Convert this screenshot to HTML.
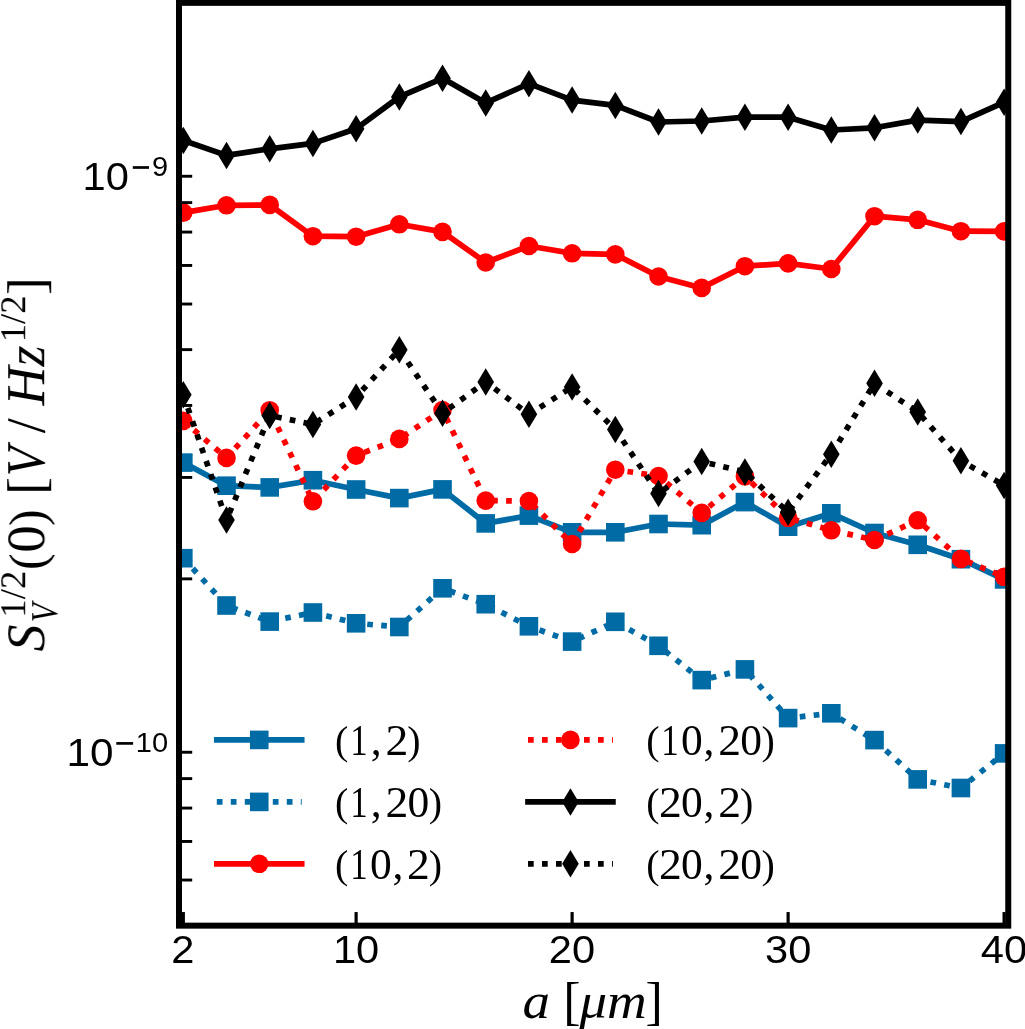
<!DOCTYPE html>
<html><head><meta charset="utf-8"><style>
html,body{margin:0;padding:0;background:#fff;width:1025px;height:1029px;overflow:hidden;}
svg{display:block;}
svg text{font-kerning:none;}
</style></head><body>
<svg width="1025" height="1029" viewBox="0 0 1025 1029"><rect x="0" y="0" width="1025" height="1029" fill="#fff"/>
<defs><clipPath id="ax"><rect x="179.0" y="2.85" width="829.25" height="922.8"/></clipPath></defs>
<g clip-path="url(#ax)">
<polyline points="183.32,462.60 226.52,485.70 269.72,487.40 312.92,480.20 356.12,489.50 399.32,498.10 442.52,489.40 485.72,523.40 528.92,515.60 572.12,532.30 615.32,532.30 658.52,524.00 701.72,525.20 744.92,502.10 788.12,526.70 831.32,513.30 874.52,533.00 917.72,544.80 960.92,559.20 1004.12,579.40" fill="none" stroke="#006BA4" stroke-width="5.7" stroke-linecap="square" stroke-linejoin="round"/>
<rect x="174.02" y="453.30" width="18.60" height="18.60" fill="#006BA4"/>
<rect x="217.22" y="476.40" width="18.60" height="18.60" fill="#006BA4"/>
<rect x="260.42" y="478.10" width="18.60" height="18.60" fill="#006BA4"/>
<rect x="303.62" y="470.90" width="18.60" height="18.60" fill="#006BA4"/>
<rect x="346.82" y="480.20" width="18.60" height="18.60" fill="#006BA4"/>
<rect x="390.02" y="488.80" width="18.60" height="18.60" fill="#006BA4"/>
<rect x="433.22" y="480.10" width="18.60" height="18.60" fill="#006BA4"/>
<rect x="476.42" y="514.10" width="18.60" height="18.60" fill="#006BA4"/>
<rect x="519.62" y="506.30" width="18.60" height="18.60" fill="#006BA4"/>
<rect x="562.82" y="523.00" width="18.60" height="18.60" fill="#006BA4"/>
<rect x="606.02" y="523.00" width="18.60" height="18.60" fill="#006BA4"/>
<rect x="649.22" y="514.70" width="18.60" height="18.60" fill="#006BA4"/>
<rect x="692.42" y="515.90" width="18.60" height="18.60" fill="#006BA4"/>
<rect x="735.62" y="492.80" width="18.60" height="18.60" fill="#006BA4"/>
<rect x="778.82" y="517.40" width="18.60" height="18.60" fill="#006BA4"/>
<rect x="822.02" y="504.00" width="18.60" height="18.60" fill="#006BA4"/>
<rect x="865.22" y="523.70" width="18.60" height="18.60" fill="#006BA4"/>
<rect x="908.42" y="535.50" width="18.60" height="18.60" fill="#006BA4"/>
<rect x="951.62" y="549.90" width="18.60" height="18.60" fill="#006BA4"/>
<rect x="994.82" y="570.10" width="18.60" height="18.60" fill="#006BA4"/>
<polyline points="183.32,558.20 226.52,605.50 269.72,621.60 312.92,612.50 356.12,623.30 399.32,627.00 442.52,588.30 485.72,604.20 528.92,626.30 572.12,641.60 615.32,621.80 658.52,645.80 701.72,680.10 744.92,669.40 788.12,718.10 831.32,713.30 874.52,740.10 917.72,779.40 960.92,788.00 1004.12,753.40" fill="none" stroke="#006BA4" stroke-width="5.7" stroke-dasharray="5.7 8.3" stroke-linecap="butt" stroke-linejoin="round"/>
<rect x="174.02" y="548.90" width="18.60" height="18.60" fill="#006BA4"/>
<rect x="217.22" y="596.20" width="18.60" height="18.60" fill="#006BA4"/>
<rect x="260.42" y="612.30" width="18.60" height="18.60" fill="#006BA4"/>
<rect x="303.62" y="603.20" width="18.60" height="18.60" fill="#006BA4"/>
<rect x="346.82" y="614.00" width="18.60" height="18.60" fill="#006BA4"/>
<rect x="390.02" y="617.70" width="18.60" height="18.60" fill="#006BA4"/>
<rect x="433.22" y="579.00" width="18.60" height="18.60" fill="#006BA4"/>
<rect x="476.42" y="594.90" width="18.60" height="18.60" fill="#006BA4"/>
<rect x="519.62" y="617.00" width="18.60" height="18.60" fill="#006BA4"/>
<rect x="562.82" y="632.30" width="18.60" height="18.60" fill="#006BA4"/>
<rect x="606.02" y="612.50" width="18.60" height="18.60" fill="#006BA4"/>
<rect x="649.22" y="636.50" width="18.60" height="18.60" fill="#006BA4"/>
<rect x="692.42" y="670.80" width="18.60" height="18.60" fill="#006BA4"/>
<rect x="735.62" y="660.10" width="18.60" height="18.60" fill="#006BA4"/>
<rect x="778.82" y="708.80" width="18.60" height="18.60" fill="#006BA4"/>
<rect x="822.02" y="704.00" width="18.60" height="18.60" fill="#006BA4"/>
<rect x="865.22" y="730.80" width="18.60" height="18.60" fill="#006BA4"/>
<rect x="908.42" y="770.10" width="18.60" height="18.60" fill="#006BA4"/>
<rect x="951.62" y="778.70" width="18.60" height="18.60" fill="#006BA4"/>
<rect x="994.82" y="744.10" width="18.60" height="18.60" fill="#006BA4"/>
<polyline points="183.32,212.60 226.52,205.30 269.72,204.90 312.92,236.20 356.12,236.70 399.32,224.30 442.52,231.90 485.72,262.50 528.92,246.00 572.12,253.30 615.32,254.40 658.52,276.50 701.72,287.90 744.92,266.20 788.12,263.40 831.32,269.00 874.52,216.20 917.72,219.80 960.92,231.20 1004.12,231.40" fill="none" stroke="#FF0000" stroke-width="5.7" stroke-linecap="square" stroke-linejoin="round"/>
<circle cx="183.32" cy="212.60" r="9.30" fill="#FF0000"/>
<circle cx="226.52" cy="205.30" r="9.30" fill="#FF0000"/>
<circle cx="269.72" cy="204.90" r="9.30" fill="#FF0000"/>
<circle cx="312.92" cy="236.20" r="9.30" fill="#FF0000"/>
<circle cx="356.12" cy="236.70" r="9.30" fill="#FF0000"/>
<circle cx="399.32" cy="224.30" r="9.30" fill="#FF0000"/>
<circle cx="442.52" cy="231.90" r="9.30" fill="#FF0000"/>
<circle cx="485.72" cy="262.50" r="9.30" fill="#FF0000"/>
<circle cx="528.92" cy="246.00" r="9.30" fill="#FF0000"/>
<circle cx="572.12" cy="253.30" r="9.30" fill="#FF0000"/>
<circle cx="615.32" cy="254.40" r="9.30" fill="#FF0000"/>
<circle cx="658.52" cy="276.50" r="9.30" fill="#FF0000"/>
<circle cx="701.72" cy="287.90" r="9.30" fill="#FF0000"/>
<circle cx="744.92" cy="266.20" r="9.30" fill="#FF0000"/>
<circle cx="788.12" cy="263.40" r="9.30" fill="#FF0000"/>
<circle cx="831.32" cy="269.00" r="9.30" fill="#FF0000"/>
<circle cx="874.52" cy="216.20" r="9.30" fill="#FF0000"/>
<circle cx="917.72" cy="219.80" r="9.30" fill="#FF0000"/>
<circle cx="960.92" cy="231.20" r="9.30" fill="#FF0000"/>
<circle cx="1004.12" cy="231.40" r="9.30" fill="#FF0000"/>
<polyline points="183.32,420.90 226.52,457.90 269.72,410.20 312.92,501.30 356.12,455.60 399.32,438.90 442.52,410.00 485.72,500.60 528.92,501.00 572.12,544.00 615.32,469.70 658.52,476.00 701.72,512.90 744.92,476.40 788.12,517.80 831.32,530.30 874.52,540.00 917.72,520.30 960.92,558.90 1004.12,576.80" fill="none" stroke="#FF0000" stroke-width="5.7" stroke-dasharray="5.7 8.3" stroke-linecap="butt" stroke-linejoin="round"/>
<circle cx="183.32" cy="420.90" r="9.30" fill="#FF0000"/>
<circle cx="226.52" cy="457.90" r="9.30" fill="#FF0000"/>
<circle cx="269.72" cy="410.20" r="9.30" fill="#FF0000"/>
<circle cx="312.92" cy="501.30" r="9.30" fill="#FF0000"/>
<circle cx="356.12" cy="455.60" r="9.30" fill="#FF0000"/>
<circle cx="399.32" cy="438.90" r="9.30" fill="#FF0000"/>
<circle cx="442.52" cy="410.00" r="9.30" fill="#FF0000"/>
<circle cx="485.72" cy="500.60" r="9.30" fill="#FF0000"/>
<circle cx="528.92" cy="501.00" r="9.30" fill="#FF0000"/>
<circle cx="572.12" cy="544.00" r="9.30" fill="#FF0000"/>
<circle cx="615.32" cy="469.70" r="9.30" fill="#FF0000"/>
<circle cx="658.52" cy="476.00" r="9.30" fill="#FF0000"/>
<circle cx="701.72" cy="512.90" r="9.30" fill="#FF0000"/>
<circle cx="744.92" cy="476.40" r="9.30" fill="#FF0000"/>
<circle cx="788.12" cy="517.80" r="9.30" fill="#FF0000"/>
<circle cx="831.32" cy="530.30" r="9.30" fill="#FF0000"/>
<circle cx="874.52" cy="540.00" r="9.30" fill="#FF0000"/>
<circle cx="917.72" cy="520.30" r="9.30" fill="#FF0000"/>
<circle cx="960.92" cy="558.90" r="9.30" fill="#FF0000"/>
<circle cx="1004.12" cy="576.80" r="9.30" fill="#FF0000"/>
<polyline points="183.32,140.40 226.52,155.40 269.72,148.80 312.92,143.40 356.12,128.70 399.32,96.90 442.52,78.30 485.72,102.90 528.92,83.70 572.12,100.10 615.32,105.40 658.52,122.00 701.72,121.00 744.92,117.20 788.12,117.20 831.32,130.00 874.52,127.80 917.72,120.10 960.92,121.60 1004.12,102.20" fill="none" stroke="#000000" stroke-width="5.7" stroke-linecap="square" stroke-linejoin="round"/>
<path d="M183.32 126.65L191.62 140.40L183.32 154.15L175.02 140.40Z" fill="#000000"/>
<path d="M226.52 141.65L234.82 155.40L226.52 169.15L218.22 155.40Z" fill="#000000"/>
<path d="M269.72 135.05L278.02 148.80L269.72 162.55L261.42 148.80Z" fill="#000000"/>
<path d="M312.92 129.65L321.22 143.40L312.92 157.15L304.62 143.40Z" fill="#000000"/>
<path d="M356.12 114.95L364.42 128.70L356.12 142.45L347.82 128.70Z" fill="#000000"/>
<path d="M399.32 83.15L407.62 96.90L399.32 110.65L391.02 96.90Z" fill="#000000"/>
<path d="M442.52 64.55L450.82 78.30L442.52 92.05L434.22 78.30Z" fill="#000000"/>
<path d="M485.72 89.15L494.02 102.90L485.72 116.65L477.42 102.90Z" fill="#000000"/>
<path d="M528.92 69.95L537.22 83.70L528.92 97.45L520.62 83.70Z" fill="#000000"/>
<path d="M572.12 86.35L580.42 100.10L572.12 113.85L563.82 100.10Z" fill="#000000"/>
<path d="M615.32 91.65L623.62 105.40L615.32 119.15L607.02 105.40Z" fill="#000000"/>
<path d="M658.52 108.25L666.82 122.00L658.52 135.75L650.22 122.00Z" fill="#000000"/>
<path d="M701.72 107.25L710.02 121.00L701.72 134.75L693.42 121.00Z" fill="#000000"/>
<path d="M744.92 103.45L753.22 117.20L744.92 130.95L736.62 117.20Z" fill="#000000"/>
<path d="M788.12 103.45L796.42 117.20L788.12 130.95L779.82 117.20Z" fill="#000000"/>
<path d="M831.32 116.25L839.62 130.00L831.32 143.75L823.02 130.00Z" fill="#000000"/>
<path d="M874.52 114.05L882.82 127.80L874.52 141.55L866.22 127.80Z" fill="#000000"/>
<path d="M917.72 106.35L926.02 120.10L917.72 133.85L909.42 120.10Z" fill="#000000"/>
<path d="M960.92 107.85L969.22 121.60L960.92 135.35L952.62 121.60Z" fill="#000000"/>
<path d="M1004.12 88.45L1012.42 102.20L1004.12 115.95L995.82 102.20Z" fill="#000000"/>
<polyline points="183.32,394.80 226.52,520.00 269.72,415.50 312.92,424.40 356.12,397.00 399.32,349.70 442.52,413.20 485.72,381.90 528.92,414.30 572.12,387.00 615.32,429.50 658.52,493.60 701.72,461.50 744.92,472.00 788.12,512.20 831.32,454.20 874.52,383.30 917.72,411.90 960.92,460.70 1004.12,485.40" fill="none" stroke="#000000" stroke-width="5.7" stroke-dasharray="5.7 8.3" stroke-linecap="butt" stroke-linejoin="round"/>
<path d="M183.32 381.05L191.62 394.80L183.32 408.55L175.02 394.80Z" fill="#000000"/>
<path d="M226.52 506.25L234.82 520.00L226.52 533.75L218.22 520.00Z" fill="#000000"/>
<path d="M269.72 401.75L278.02 415.50L269.72 429.25L261.42 415.50Z" fill="#000000"/>
<path d="M312.92 410.65L321.22 424.40L312.92 438.15L304.62 424.40Z" fill="#000000"/>
<path d="M356.12 383.25L364.42 397.00L356.12 410.75L347.82 397.00Z" fill="#000000"/>
<path d="M399.32 335.95L407.62 349.70L399.32 363.45L391.02 349.70Z" fill="#000000"/>
<path d="M442.52 399.45L450.82 413.20L442.52 426.95L434.22 413.20Z" fill="#000000"/>
<path d="M485.72 368.15L494.02 381.90L485.72 395.65L477.42 381.90Z" fill="#000000"/>
<path d="M528.92 400.55L537.22 414.30L528.92 428.05L520.62 414.30Z" fill="#000000"/>
<path d="M572.12 373.25L580.42 387.00L572.12 400.75L563.82 387.00Z" fill="#000000"/>
<path d="M615.32 415.75L623.62 429.50L615.32 443.25L607.02 429.50Z" fill="#000000"/>
<path d="M658.52 479.85L666.82 493.60L658.52 507.35L650.22 493.60Z" fill="#000000"/>
<path d="M701.72 447.75L710.02 461.50L701.72 475.25L693.42 461.50Z" fill="#000000"/>
<path d="M744.92 458.25L753.22 472.00L744.92 485.75L736.62 472.00Z" fill="#000000"/>
<path d="M788.12 498.45L796.42 512.20L788.12 525.95L779.82 512.20Z" fill="#000000"/>
<path d="M831.32 440.45L839.62 454.20L831.32 467.95L823.02 454.20Z" fill="#000000"/>
<path d="M874.52 369.55L882.82 383.30L874.52 397.05L866.22 383.30Z" fill="#000000"/>
<path d="M917.72 398.15L926.02 411.90L917.72 425.65L909.42 411.90Z" fill="#000000"/>
<path d="M960.92 446.95L969.22 460.70L960.92 474.45L952.62 460.70Z" fill="#000000"/>
<path d="M1004.12 471.65L1012.42 485.40L1004.12 499.15L995.82 485.40Z" fill="#000000"/>
</g>
<line x1="183.32" y1="925.65" x2="183.32" y2="912.05" stroke="#000" stroke-width="3.2"/>
<line x1="356.12" y1="925.65" x2="356.12" y2="912.05" stroke="#000" stroke-width="3.2"/>
<line x1="572.12" y1="925.65" x2="572.12" y2="912.05" stroke="#000" stroke-width="3.2"/>
<line x1="788.12" y1="925.65" x2="788.12" y2="912.05" stroke="#000" stroke-width="3.2"/>
<line x1="1004.12" y1="925.65" x2="1004.12" y2="912.05" stroke="#000" stroke-width="3.2"/>
<line x1="179.00" y1="176.25" x2="192.20" y2="176.25" stroke="#000" stroke-width="2.9"/>
<line x1="179.00" y1="752.25" x2="192.20" y2="752.25" stroke="#000" stroke-width="2.9"/>
<line x1="179.00" y1="578.86" x2="192.20" y2="578.86" stroke="#000" stroke-width="2.9"/>
<line x1="179.00" y1="477.43" x2="192.20" y2="477.43" stroke="#000" stroke-width="2.9"/>
<line x1="179.00" y1="405.46" x2="192.20" y2="405.46" stroke="#000" stroke-width="2.9"/>
<line x1="179.00" y1="349.64" x2="192.20" y2="349.64" stroke="#000" stroke-width="2.9"/>
<line x1="179.00" y1="304.03" x2="192.20" y2="304.03" stroke="#000" stroke-width="2.9"/>
<line x1="179.00" y1="265.47" x2="192.20" y2="265.47" stroke="#000" stroke-width="2.9"/>
<line x1="179.00" y1="232.07" x2="192.20" y2="232.07" stroke="#000" stroke-width="2.9"/>
<line x1="179.00" y1="202.61" x2="192.20" y2="202.61" stroke="#000" stroke-width="2.9"/>
<line x1="179.00" y1="880.03" x2="192.20" y2="880.03" stroke="#000" stroke-width="2.9"/>
<line x1="179.00" y1="841.47" x2="192.20" y2="841.47" stroke="#000" stroke-width="2.9"/>
<line x1="179.00" y1="808.07" x2="192.20" y2="808.07" stroke="#000" stroke-width="2.9"/>
<line x1="179.00" y1="778.61" x2="192.20" y2="778.61" stroke="#000" stroke-width="2.9"/>
<rect x="179.0" y="2.85" width="829.25" height="922.8" fill="none" stroke="#000" stroke-width="6.0" stroke-linejoin="miter"/>
<line x1="216.80" y1="739.90" x2="301.70" y2="739.90" stroke="#006BA4" stroke-width="5.7" stroke-linecap="square"/>
<rect x="249.95" y="730.60" width="18.60" height="18.60" fill="#006BA4"/>
<line x1="216.80" y1="801.90" x2="301.70" y2="801.90" stroke="#006BA4" stroke-width="5.7" stroke-dasharray="5.7 8.3"/>
<rect x="249.95" y="792.60" width="18.60" height="18.60" fill="#006BA4"/>
<line x1="216.80" y1="863.80" x2="301.70" y2="863.80" stroke="#FF0000" stroke-width="5.7" stroke-linecap="square"/>
<circle cx="259.25" cy="863.80" r="9.30" fill="#FF0000"/>
<line x1="528.00" y1="739.90" x2="612.90" y2="739.90" stroke="#FF0000" stroke-width="5.7" stroke-dasharray="5.7 8.3"/>
<circle cx="570.45" cy="739.90" r="9.30" fill="#FF0000"/>
<line x1="528.00" y1="801.90" x2="612.90" y2="801.90" stroke="#000000" stroke-width="5.7" stroke-linecap="square"/>
<path d="M570.45 788.15L578.75 801.90L570.45 815.65L562.15 801.90Z" fill="#000000"/>
<line x1="528.00" y1="863.80" x2="612.90" y2="863.80" stroke="#000000" stroke-width="5.7" stroke-dasharray="5.7 8.3"/>
<path d="M570.45 850.05L578.75 863.80L570.45 877.55L562.15 863.80Z" fill="#000000"/>
<g opacity="0.999">
<text transform="translate(171.29,963.30) scale(1.0600,1)" x="0" y="0" font-family='"Liberation Sans", sans-serif' font-size="39.3">2</text>
<text transform="translate(332.88,963.30) scale(1.0600,1)" x="0" y="0" font-family='"Liberation Sans", sans-serif' font-size="39.3">10</text>
<text transform="translate(548.82,963.30) scale(1.0600,1)" x="0" y="0" font-family='"Liberation Sans", sans-serif' font-size="39.3">20</text>
<text transform="translate(765.07,963.30) scale(1.0600,1)" x="0" y="0" font-family='"Liberation Sans", sans-serif' font-size="39.3">30</text>
<text transform="translate(980.79,963.30) scale(1.0600,1)" x="0" y="0" font-family='"Liberation Sans", sans-serif' font-size="39.3">40</text>
<text transform="translate(82.62,190.30) scale(1.0616,1)" x="0" y="0" font-family='"Liberation Sans", sans-serif' font-size="39.3">10</text>
<rect x="132.8" y="166.15" width="16.20" height="2.7" fill="#000"/>
<text transform="translate(151.94,176.00) scale(1.0287,1)" x="0" y="0" font-family='"Liberation Sans", sans-serif' font-size="28.2">9</text>
<text transform="translate(66.58,766.30) scale(1.0769,1)" x="0" y="0" font-family='"Liberation Sans", sans-serif' font-size="39.3">10</text>
<rect x="116.3" y="742.05" width="16.80" height="2.7" fill="#000"/>
<text transform="translate(135.78,751.80) scale(1.0314,1)" x="0" y="0" font-family='"Liberation Sans", sans-serif' font-size="28.2">10</text>
<text x="335.04" y="753.70" font-family='"Liberation Serif", serif' font-size="40.0">(</text>
<text transform="translate(350.24,754.90) scale(0.8000,1)" x="0" y="0" font-family='"Liberation Serif", serif' font-size="43.5">1</text>
<text x="370.84" y="754.90" font-family='"Liberation Serif", serif' font-size="43.5">,</text>
<text transform="translate(385.49,754.90) scale(1.0500,1)" x="0" y="0" font-family='"Liberation Serif", serif' font-size="43.5">2</text>
<text x="407.21" y="753.70" font-family='"Liberation Serif", serif' font-size="40.0">)</text>
<text x="335.04" y="815.70" font-family='"Liberation Serif", serif' font-size="40.0">(</text>
<text transform="translate(350.24,816.90) scale(0.8000,1)" x="0" y="0" font-family='"Liberation Serif", serif' font-size="43.5">1</text>
<text x="370.84" y="816.90" font-family='"Liberation Serif", serif' font-size="43.5">,</text>
<text transform="translate(385.49,816.90) scale(1.0500,1)" x="0" y="0" font-family='"Liberation Serif", serif' font-size="43.5">2</text>
<text x="407.54" y="816.90" font-family='"Liberation Serif", serif' font-size="43.5">0</text>
<text x="428.81" y="815.70" font-family='"Liberation Serif", serif' font-size="40.0">)</text>
<text x="335.04" y="877.60" font-family='"Liberation Serif", serif' font-size="40.0">(</text>
<text transform="translate(350.24,878.80) scale(0.8000,1)" x="0" y="0" font-family='"Liberation Serif", serif' font-size="43.5">1</text>
<text x="369.94" y="878.80" font-family='"Liberation Serif", serif' font-size="43.5">0</text>
<text x="392.44" y="878.80" font-family='"Liberation Serif", serif' font-size="43.5">,</text>
<text transform="translate(407.09,878.80) scale(1.0500,1)" x="0" y="0" font-family='"Liberation Serif", serif' font-size="43.5">2</text>
<text x="428.81" y="877.60" font-family='"Liberation Serif", serif' font-size="40.0">)</text>
<text x="646.14" y="753.70" font-family='"Liberation Serif", serif' font-size="40.0">(</text>
<text transform="translate(661.34,754.90) scale(0.8000,1)" x="0" y="0" font-family='"Liberation Serif", serif' font-size="43.5">1</text>
<text x="681.04" y="754.90" font-family='"Liberation Serif", serif' font-size="43.5">0</text>
<text x="703.54" y="754.90" font-family='"Liberation Serif", serif' font-size="43.5">,</text>
<text transform="translate(718.19,754.90) scale(1.0500,1)" x="0" y="0" font-family='"Liberation Serif", serif' font-size="43.5">2</text>
<text x="740.24" y="754.90" font-family='"Liberation Serif", serif' font-size="43.5">0</text>
<text x="761.51" y="753.70" font-family='"Liberation Serif", serif' font-size="40.0">)</text>
<text x="646.14" y="815.70" font-family='"Liberation Serif", serif' font-size="40.0">(</text>
<text transform="translate(658.99,816.90) scale(1.0500,1)" x="0" y="0" font-family='"Liberation Serif", serif' font-size="43.5">2</text>
<text x="681.04" y="816.90" font-family='"Liberation Serif", serif' font-size="43.5">0</text>
<text x="703.54" y="816.90" font-family='"Liberation Serif", serif' font-size="43.5">,</text>
<text transform="translate(718.19,816.90) scale(1.0500,1)" x="0" y="0" font-family='"Liberation Serif", serif' font-size="43.5">2</text>
<text x="739.91" y="815.70" font-family='"Liberation Serif", serif' font-size="40.0">)</text>
<text x="646.14" y="877.60" font-family='"Liberation Serif", serif' font-size="40.0">(</text>
<text transform="translate(658.99,878.80) scale(1.0500,1)" x="0" y="0" font-family='"Liberation Serif", serif' font-size="43.5">2</text>
<text x="681.04" y="878.80" font-family='"Liberation Serif", serif' font-size="43.5">0</text>
<text x="703.54" y="878.80" font-family='"Liberation Serif", serif' font-size="43.5">,</text>
<text transform="translate(718.19,878.80) scale(1.0500,1)" x="0" y="0" font-family='"Liberation Serif", serif' font-size="43.5">2</text>
<text x="740.24" y="878.80" font-family='"Liberation Serif", serif' font-size="43.5">0</text>
<text x="761.51" y="877.60" font-family='"Liberation Serif", serif' font-size="40.0">)</text>
<text transform="translate(522.46,1018.40) scale(1.0682,1)" x="0" y="0" font-family='"Liberation Serif", serif' font-size="51.5" font-style="italic">a</text>
<text x="563.14" y="1019.40" font-family='"Liberation Serif", serif' font-size="52">[</text>
<text transform="translate(579.45,1018.40) scale(1.0684,1)" x="0" y="0" font-family='"Liberation Serif", serif' font-size="51.5" font-style="italic">μm</text>
<text x="645.52" y="1019.40" font-family='"Liberation Serif", serif' font-size="52">]</text>
<g transform="translate(44.2,651.0) rotate(-90)"><text x="-0.63" y="0.00" font-family='"Liberation Serif", serif' font-size="54" font-style="italic">S</text><text transform="translate(28.67,13.10) scale(0.8420,1)" x="0" y="0" font-family='"Liberation Serif", serif' font-size="37.0" font-style="italic">V</text><text x="33.37" y="-19.00" font-family='"Liberation Serif", serif' font-size="36.7">1/2</text><text x="81.10" y="0.00" font-family='"Liberation Serif", serif' font-size="50">(</text><text x="98.31" y="0.00" font-family='"Liberation Serif", serif' font-size="55">0</text><text x="124.89" y="0.00" font-family='"Liberation Serif", serif' font-size="50">)</text><text x="156.27" y="0.00" font-family='"Liberation Serif", serif' font-size="53">[</text><text transform="translate(174.75,0.00) scale(0.9022,1)" x="0" y="0" font-family='"Liberation Serif", serif' font-size="54" font-style="italic">V</text><text x="217.70" y="0.00" font-family='"Liberation Serif", serif' font-size="54">/</text><text x="245.48" y="0.00" font-family='"Liberation Serif", serif' font-size="54" font-style="italic">H</text><text x="284.41" y="0.00" font-family='"Liberation Serif", serif' font-size="54" font-style="italic">z</text><text x="308.77" y="-19.00" font-family='"Liberation Serif", serif' font-size="36.7">1/2</text><text x="355.98" y="0.00" font-family='"Liberation Serif", serif' font-size="53">]</text></g>
</g></svg>
</body></html>
